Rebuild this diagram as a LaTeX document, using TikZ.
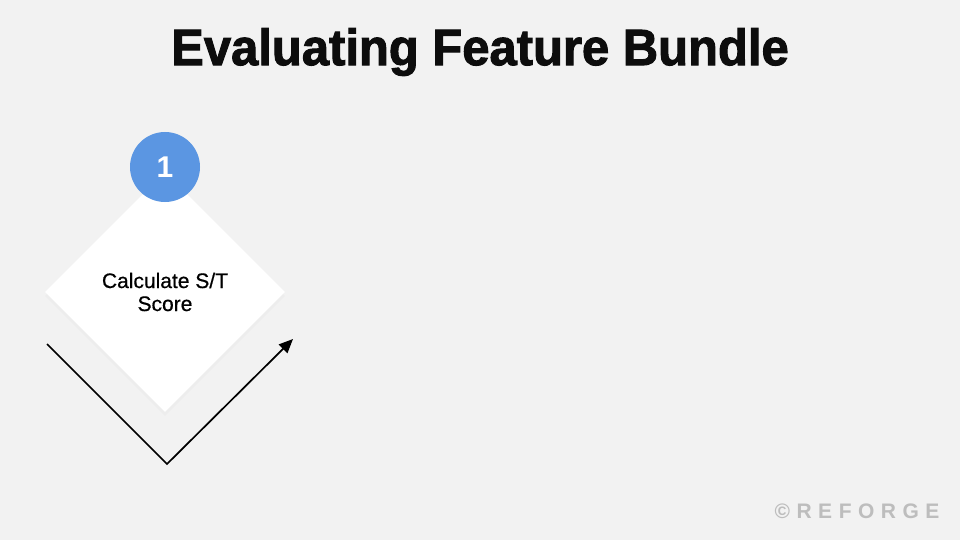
\documentclass[tikz,border=0pt]{standalone}
\usepackage{fontspec}
\setmainfont{Liberation Sans}
\usetikzlibrary{shapes.geometric,shadows,arrows.meta}
\definecolor{bgcol}{HTML}{F2F2F2}
\definecolor{stepblue}{HTML}{5B96E2}
\definecolor{markgray}{HTML}{BDBDBD}
\begin{document}
\begin{tikzpicture}[
    x=1pt, y=-1pt,
    stepbox/.style={diamond, fill=white, aspect=1, minimum width=240pt, minimum height=240pt, inner sep=0pt, align=center, font=\fontsize{21}{23}\selectfont\addfontfeatures{FakeBold=0.6}, drop shadow={opacity=0.04, shadow xshift=0pt, shadow yshift=-4pt}},
    badge/.style={circle, fill=stepblue, minimum size=70pt, inner sep=0pt, text=white, font=\bfseries\fontsize{30}{30}\selectfont},
    flow/.style={-{Triangle[length=14pt, width=12pt]}, line width=1.7pt, black},
]
\fill[bgcol] (0,0) rectangle (960,540);
\useasboundingbox (0,0) rectangle (960,540);

% Title
\node[font=\bfseries\fontsize{51}{55}\selectfont\addfontfeatures{FakeBold=2}, xscale=0.96, text=black!95] (title) at (480,52) {Evaluating Feature Bundle};

% Nodes
\node[stepbox] (calc) at (165,292) {Calculate S/T\\Score};
\node[badge] (one) at (165,167) {1};

% Edges
\coordinate (in) at (47,344);
\coordinate (turn) at (167,464);
\coordinate (out) at (293,339);
\draw[flow] (in) -- (turn) -- (out);

% Watermark
\node[anchor=east, text=markgray, font=\bfseries\fontsize{21}{21}\selectfont\addfontfeatures{LetterSpace=31}] (mark) at (943,511) {©REFORGE};

\end{tikzpicture}
\end{document}
